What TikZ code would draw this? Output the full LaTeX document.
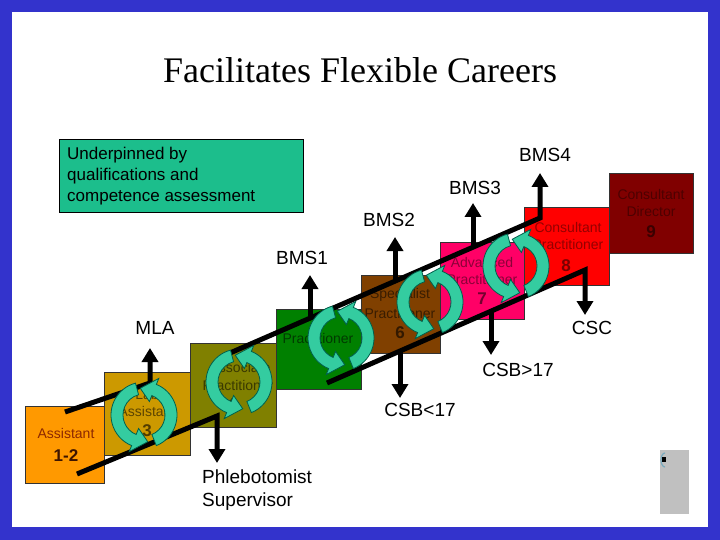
\documentclass[tikz,border=0pt]{standalone}
\usepackage{fontspec}
\setmainfont{Liberation Sans}
\newfontfamily\titlefont{Liberation Serif}
\usetikzlibrary{arrows.meta}
\definecolor{frameblue}{RGB}{51,51,204}
\definecolor{undergreen}{RGB}{28,190,140}
\definecolor{cA}{RGB}{255,153,0}
\definecolor{cB}{RGB}{204,153,0}
\definecolor{cC}{RGB}{128,128,0}
\definecolor{cD}{RGB}{0,128,0}
\definecolor{cE}{RGB}{128,64,0}
\definecolor{cF}{RGB}{255,0,102}
\definecolor{cG}{RGB}{255,0,0}
\definecolor{cH}{RGB}{128,0,0}
\definecolor{tealfill}{RGB}{52,204,160}
\definecolor{tealline}{RGB}{0,96,76}
\definecolor{greybox}{RGB}{192,192,192}
\tikzset{
  stepbox/.style={draw=black!80, line width=0.6pt, inner sep=0pt, anchor=north west},
  small/.style={inner sep=0pt, font=\fontsize{14}{16}\selectfont},
  num/.style={inner sep=0pt, font=\bfseries\fontsize{17}{19}\selectfont},
  big/.style={inner sep=0pt, font=\fontsize{19}{22}\selectfont},
  thick line/.style={line width=5pt, line join=miter, line cap=butt},
  tipped/.style={thick line, -{Triangle[length=14pt,width=16pt]}},
  tealarrow/.style={fill=tealfill, draw=tealline, line width=0.8pt},
  cyc/.pic={
    \filldraw[tealarrow] (255:33) arc[start angle=255,end angle=112,radius=33]
      -- (112:39.5) -- (82:27) -- (112:14.5) -- (112:21)
      arc[start angle=112,end angle=255,radius=21] -- cycle;
    \filldraw[tealarrow] (68:33) arc[start angle=68,end angle=-68,radius=33]
      -- (-68:39.5) -- (-98:27) -- (-68:14.5) -- (-68:21)
      arc[start angle=-68,end angle=68,radius=21] -- cycle;
  }
}
\begin{document}
\begin{tikzpicture}[x=1pt,y=-1pt]
\useasboundingbox (0,0) rectangle (720,540);
\fill[frameblue] (0,0) rectangle (720,540);
\fill[white] (12,12) rectangle (708,527);

% title
\node[inner sep=0pt, font=\titlefont\fontsize{36}{40}\selectfont] (title) at (360,70) {Facilitates Flexible Careers};

% underpinned box
\node[draw=black, line width=0.8pt, fill=undergreen, anchor=north west, minimum width=244pt, minimum height=73pt, inner sep=0pt] (under) at (59,139) {};
\node[inner sep=0pt, anchor=west, align=left, font=\fontsize{17}{21}\selectfont] (undertext) at (67,176) {Underpinned by\\qualifications and\\competence assessment};

% step boxes
\node[stepbox, fill=cA, minimum width=79pt, minimum height=77pt] (b1) at (25,406) {};
\node[stepbox, fill=cB, minimum width=86pt, minimum height=83pt] (b2) at (104,372) {};
\node[stepbox, fill=cC, minimum width=86pt, minimum height=84pt] (b3) at (190,343) {};
\node[stepbox, fill=cD, minimum width=85pt, minimum height=80pt] (b4) at (276,309) {};
\node[stepbox, fill=cE, minimum width=79pt, minimum height=78pt] (b5) at (361,275) {};
\node[stepbox, fill=cF, minimum width=84pt, minimum height=77pt] (b6) at (440,242) {};
\node[stepbox, fill=cG, minimum width=85pt, minimum height=78pt] (b7) at (524,207) {};
\node[stepbox, fill=cH, minimum width=84pt, minimum height=80pt] (b8) at (609,173) {};

% box texts
\node[small, text={rgb,255:red,140;green,40;blue,0}] (t1a) at (66,433) {Assistant};
\node[num, text={rgb,255:red,60;green,20;blue,0}] (t1b) at (66,456) {1-2};
\node[small, text=cB!45!black] (t2a) at (147,394) {Lab};
\node[small, text=cB!45!black] (t2b) at (147,411) {Assistant};
\node[num, text=cB!40!black] (t2c) at (147,431) {3};
\node[small, text=cC!45!black] (t3a) at (240,367) {Associate};
\node[small, text=cC!45!black] (t3b) at (238,385) {Practitioner};
\node[num, text=cC!40!black] (t3c) at (231,405) {4};
\node[small, text=cD!45!black] (t4a) at (318,338) {Practitioner};
\node[small, text=cE!45!black] (t5a) at (400,295) {Specialist};
\node[small, text=cE!45!black] (t5b) at (400,313) {Practitioner};
\node[num, text=cE!40!black] (t5c) at (400,333) {6};
\node[small, text=cF!55!black] (t6a) at (482,262) {Advanced};
\node[small, text=cF!55!black] (t6b) at (482,279) {Practitioner};
\node[num, text=cF!45!black] (t6c) at (482,299) {7};
\node[small, text=cG!58!black] (t7a) at (568,227) {Consultant};
\node[small, text=cG!58!black] (t7b) at (568,244) {Practitioner};
\node[num, text=cG!48!black] (t7c) at (566,266) {8};
\node[small, text=cH!60!black] (t8a) at (651,194) {Consultant};
\node[small, text=cH!60!black] (t8b) at (651,211) {Director};
\node[num, text=cH!45!black] (t8c) at (651,232) {9};

% coordinates of the black lines
\coordinate (uA1) at (65,412);
\coordinate (uA2) at (150,383);
\coordinate (mlaTip) at (150,348);
\coordinate (uB1) at (230,353);
\coordinate (uB2) at (540,218);
\coordinate (bms4Tip) at (540,173);
\coordinate (bms1Base) at (310,318.2);
\coordinate (bms1Tip) at (310,275);
\coordinate (bms2Base) at (395,281.1);
\coordinate (bms2Tip) at (395,237);
\coordinate (bms3Base) at (473,247.2);
\coordinate (bms3Tip) at (473,203);
\coordinate (lA1) at (77,474);
\coordinate (lA2) at (217,416);
\coordinate (phlTip) at (217,463);
\coordinate (lB1) at (327,383);
\coordinate (lB2) at (585,270);
\coordinate (cscTip) at (585,315);
\coordinate (csb1Base) at (400,351);
\coordinate (csb1Tip) at (400,398);
\coordinate (csb2Base) at (491,311.2);
\coordinate (csb2Tip) at (491,355);

% black lines and arrows
\draw[tipped] (uA1) -- (uA2) -- (mlaTip);
\draw[tipped] (uB1) -- (uB2) -- (bms4Tip);
\draw[tipped] (bms1Base) -- (bms1Tip);
\draw[tipped] (bms2Base) -- (bms2Tip);
\draw[tipped] (bms3Base) -- (bms3Tip);
\draw[tipped] (lA1) -- (lA2) -- (phlTip);
\draw[tipped] (lB1) -- (lB2) -- (cscTip);
\draw[tipped] (csb1Base) -- (csb1Tip);
\draw[tipped] (csb2Base) -- (csb2Tip);

% cycle arrows
\pic (cy1) at (144,415) {cyc};
\pic (cy2) at (239,382) {cyc};
\pic (cy3) at (341,338) {cyc};
\pic (cy4) at (430,302) {cyc};
\pic (cy5) at (516,266) {cyc};

% labels
\node[big] (mla) at (155,328) {MLA};
\node[big] (bms1) at (302,258) {BMS1};
\node[big] (bms2) at (389,220) {BMS2};
\node[big] (bms3) at (475,188) {BMS3};
\node[big] (bms4) at (545,155) {BMS4};
\node[big] (csb1) at (420,410) {CSB<17};
\node[big] (csb2) at (518,370) {CSB>17};
\node[big] (csc) at (592,328) {CSC};
\node[big, anchor=west, align=left, font=\fontsize{19}{23.5}\selectfont] (phl) at (202,490) {Phlebotomist\\Supervisor};

% grey block with small icon
\node[fill=greybox, anchor=north west, minimum width=29pt, minimum height=64pt, inner sep=0pt] (grey) at (660,450) {};
\draw[draw={rgb,255:red,120;green,170;blue,190}, line width=1.2pt] (665,453) arc[start angle=270,end angle=90,x radius=4,y radius=7];
\fill[black] (662,457) rectangle (665.5,462);
\end{tikzpicture}
\end{document}
